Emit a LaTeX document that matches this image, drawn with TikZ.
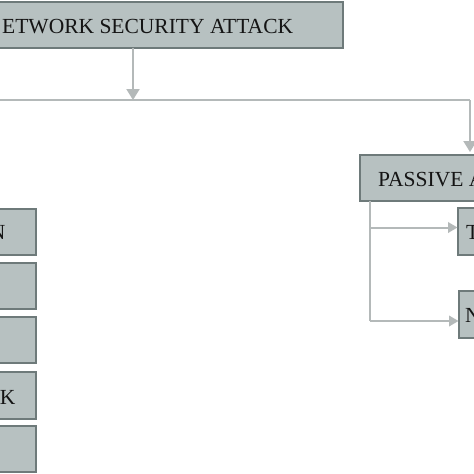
\documentclass[tikz,border=0pt]{standalone}
\usepackage{fontspec}
\setmainfont{Liberation Serif}
\usetikzlibrary{arrows.meta}
\definecolor{boxfill}{HTML}{B7C1C1}
\definecolor{boxline}{HTML}{6E7A7A}
\definecolor{connc}{HTML}{B4B9B9}
\definecolor{txtc}{HTML}{141414}
\begin{document}
\begin{tikzpicture}[x=1pt,y=-1pt,
  box/.style={draw=boxline, line width=2pt, fill=boxfill, inner sep=0pt, outer sep=0pt, anchor=north west},
  lbl/.style={text=txtc, inner sep=0pt, font=\fontsize{21.5}{21.5}\selectfont},
  conn/.style={draw=connc, line width=2pt},
  arr/.style={conn, -{Triangle[length=11pt,width=13pt]}},
  sarr/.style={conn, -{Triangle[length=9.5pt,width=10.5pt]}}]
\useasboundingbox (0,0) rectangle (474,474);
\fill[white] (0,0) rectangle (474,474);
\clip (0,0) rectangle (474,474);
% boxes
\node[box, minimum width=402.5pt, minimum height=46pt] (top) at (-60,1.5) {};
\node[box, minimum width=160pt, minimum height=45.5pt] (passive) at (360,155) {};
\node[box, minimum width=62.5pt, minimum height=47.5pt] (tbox) at (457.5,207.5) {};
\node[box, minimum width=61.5pt, minimum height=47.5pt] (nbox) at (458.5,290.5) {};
\node[box, minimum width=96pt, minimum height=46pt] (l1) at (-60,208.5) {};
\node[box, minimum width=96pt, minimum height=46pt] (l2) at (-60,262.5) {};
\node[box, minimum width=96pt, minimum height=46pt] (l3) at (-60,316.5) {};
\node[box, minimum width=96pt, minimum height=46.5pt] (l4) at (-60,372) {};
\node[box, minimum width=96pt, minimum height=46.5pt] (l5) at (-60,425.5) {};
% texts
\node[lbl, anchor=base west] (toptxt) at (2,33) {ETWORK SECURITY ATTACK};
\node[lbl, anchor=base west] (ptxt) at (378,186) {PASSIVE A};
\node[lbl, anchor=base west] (ttxt) at (466,239) {T};
\node[lbl, anchor=base west] (ntxt) at (465,322.5) {N};
\node[lbl, anchor=base east] (l1txt) at (5.5,239) {N};
\node[lbl, anchor=base east] (l4txt) at (15.5,404) {K};
% connectors
\coordinate (bus) at (133,100);
\coordinate (busL) at (-5,100);
\coordinate (busR) at (470,100);
\draw[arr] (top.south -| bus) -- (bus);
\draw[conn] (busL) -- (busR);
\draw[arr, shorten >=3pt] (busR) -- (busR |- passive.north);
\coordinate (pa) at (370,227.5);
\coordinate (pb) at (370,321);
\draw[conn] (passive.south -| pa) -- (pb);
\draw[sarr] (pa) -- (pa -| tbox.west);
\draw[sarr] (pb) -- (pb -| nbox.west);
\end{tikzpicture}
\end{document}
